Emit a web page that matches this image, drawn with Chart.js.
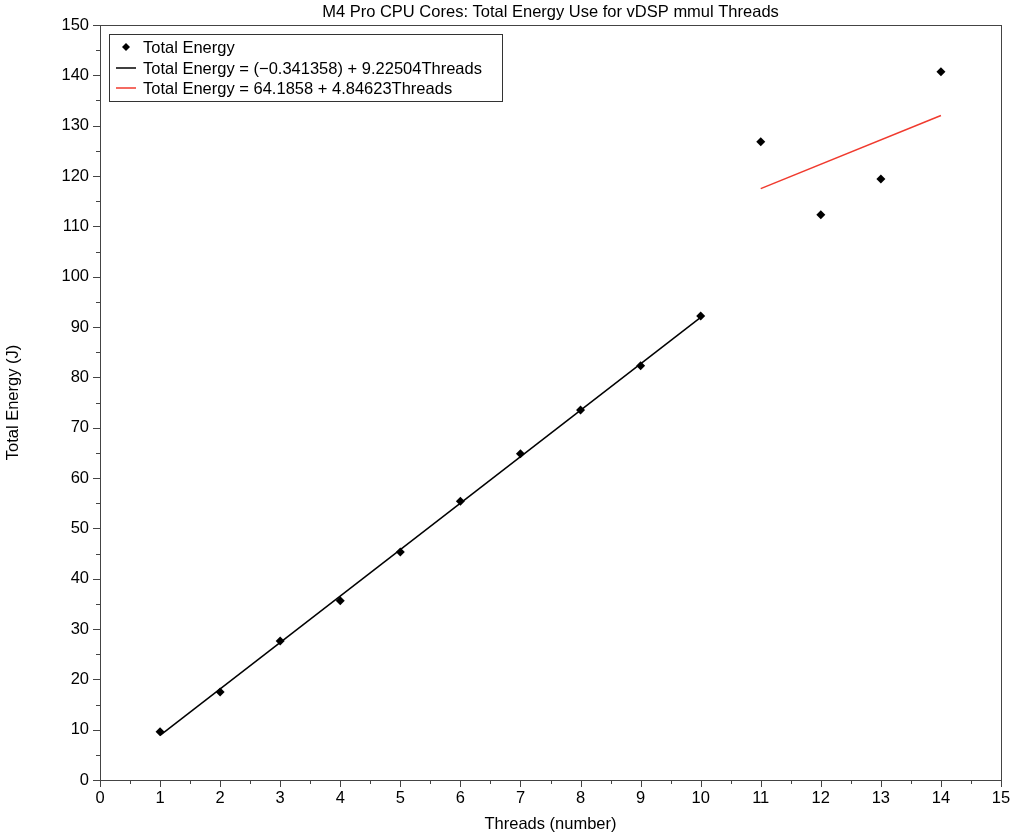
<!DOCTYPE html>
<html>
<head>
<meta charset="utf-8">
<script src="https://cdn.jsdelivr.net/npm/chart.js@4"></script>
<style>
  html, body { margin: 0; padding: 0; background: #fff; }
  #wrap { width: 1023px; height: 838px; position: relative; }
</style>
</head>
<body>
<div id="wrap"><canvas id="energyChart"></canvas></div>
<script>
// data
const threads = [1, 2, 3, 4, 5, 6, 7, 8, 9, 10, 11, 12, 13, 14];
const totalEnergy = [9.6, 17.5, 27.6, 35.6, 45.3, 55.4, 64.8, 73.5, 82.3, 92.2, 126.8, 112.3, 119.4, 140.7];

// fit lines (coefficients from the legend)
const fit1Range = [1, 10];
const fit1Intercept = -0.341358;
const fit1Slope = 9.22504;
const fit2Range = [11, 14];
const fit2Intercept = 64.1858;
const fit2Slope = 4.84623;

const titleText = 'M4 Pro CPU Cores: Total Energy Use for vDSP mmul Threads';
const legendLabels = [
    'Total Energy',
    'Total Energy = (\u22120.341358) + 9.22504Threads',
    'Total Energy = 64.1858 + 4.84623Threads'
];

const FONT = '"Liberation Sans", Arial, Helvetica, sans-serif';
const FSIZE = 16.5;

function fitPoints(range, a, b) {
    return range.map(x => ({ x: x, y: a + b * x }));
}

// ticks, frame, title, legend
const framePlugin = {
    id: 'frame',
    afterDraw(chart) {
        const c = chart.ctx;
        const area = chart.chartArea;
        const xs = chart.scales.x;
        const ys = chart.scales.y;
        c.save();
        c.strokeStyle = '#444';
        c.lineWidth = 1;

        // frame
        c.strokeRect(area.left + 0.5, area.top + 0.5, area.right - area.left, area.bottom - area.top);

        // x ticks
        c.beginPath();
        for (let v = 0; v <= 15; v += 0.5) {
            const px = Math.round(xs.getPixelForValue(v)) + 0.5;
            const len = Number.isInteger(v) ? 7 : 4;
            c.moveTo(px, area.bottom);
            c.lineTo(px, area.bottom + len);
        }
        // y ticks
        for (let v = 0; v <= 150; v += 5) {
            const py = Math.round(ys.getPixelForValue(v)) + 0.5;
            const len = v % 10 === 0 ? 7 : 4;
            c.moveTo(area.left, py);
            c.lineTo(area.left - len, py);
        }
        c.stroke();

        // title
        c.fillStyle = '#000';
        c.font = FSIZE + 'px ' + FONT;
        c.textAlign = 'center';
        c.textBaseline = 'middle';
        c.fillText(titleText, (area.left + area.right) / 2, 12);

        // legend
        const lx = 109, ly = 34, lw = 393, lh = 67;
        c.fillStyle = '#fff';
        c.fillRect(lx, ly, lw, lh);
        c.strokeStyle = '#333';
        c.strokeRect(lx + 0.5, ly + 0.5, lw, lh);
        c.textAlign = 'left';
        const rows = [47, 68, 88];
        // marker
        c.fillStyle = '#000';
        c.beginPath();
        c.moveTo(126, rows[0] - 4);
        c.lineTo(130, rows[0]);
        c.lineTo(126, rows[0] + 4);
        c.lineTo(122, rows[0]);
        c.closePath();
        c.fill();
        // lines
        c.lineWidth = 1.5;
        c.strokeStyle = '#000';
        c.beginPath();
        c.moveTo(116, rows[1]);
        c.lineTo(136, rows[1]);
        c.stroke();
        c.strokeStyle = '#f03a2e';
        c.beginPath();
        c.moveTo(116, rows[2]);
        c.lineTo(136, rows[2]);
        c.stroke();
        c.fillStyle = '#000';
        legendLabels.forEach((t, i) => c.fillText(t, 143, rows[i] + 1));
        c.restore();
    }
};

const ctx = document.getElementById('energyChart').getContext('2d');
const energyChart = new Chart(ctx, {
    type: 'scatter',
    data: {
        datasets: [
            {
                label: legendLabels[0],
                data: threads.map((t, i) => ({ x: t, y: totalEnergy[i] })),
                pointStyle: 'rectRot',
                pointRadius: 4.5,
                pointHoverRadius: 4.5,
                backgroundColor: '#000',
                borderColor: '#000',
                borderWidth: 0,
                showLine: false
            },
            {
                label: legendLabels[1],
                data: fitPoints(fit1Range, fit1Intercept, fit1Slope),
                showLine: true,
                borderColor: '#000',
                borderWidth: 1.5,
                pointRadius: 0
            },
            {
                label: legendLabels[2],
                data: fitPoints(fit2Range, fit2Intercept, fit2Slope),
                showLine: true,
                borderColor: '#f03a2e',
                borderWidth: 1.5,
                pointRadius: 0
            }
        ]
    },
    options: {
        responsive: true,
        maintainAspectRatio: false,
        animation: false,
        layout: { padding: { top: 25, right: 22, left: 0, bottom: 0 } },
        scales: {
            x: {
                type: 'linear',
                min: 0,
                max: 15,
                grid: { display: false, drawTicks: false },
                border: { display: false },
                ticks: {
                    stepSize: 1,
                    padding: 9,
                    color: '#000',
                    font: { family: FONT, size: FSIZE }
                },
                title: {
                    display: true,
                    text: 'Threads (number)',
                    color: '#000',
                    font: { family: FONT, size: FSIZE },
                    padding: { top: 0, bottom: 4 }
                },
                afterFit(scale) { scale.height = 58; }
            },
            y: {
                type: 'linear',
                min: 0,
                max: 150,
                grid: { display: false, drawTicks: false },
                border: { display: false },
                ticks: {
                    stepSize: 10,
                    padding: 11,
                    color: '#000',
                    font: { family: FONT, size: FSIZE }
                },
                title: {
                    display: true,
                    text: 'Total Energy (J)',
                    color: '#000',
                    font: { family: FONT, size: FSIZE },
                    padding: { top: 4, bottom: 0 }
                },
                afterFit(scale) { scale.width = 100; }
            }
        },
        plugins: {
            legend: { display: false },
            tooltip: { enabled: false },
            title: { display: false }
        }
    },
    plugins: [framePlugin]
});
</script>
</body>
</html>
